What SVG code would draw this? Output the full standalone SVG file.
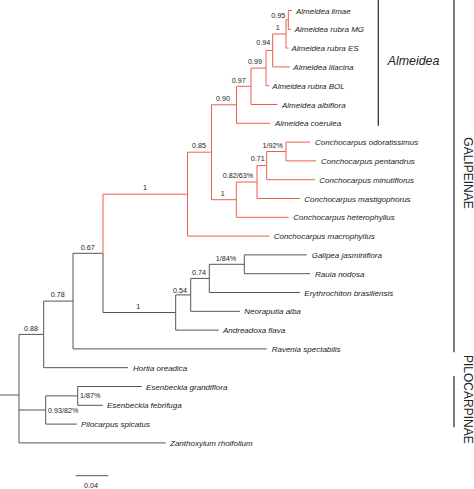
<svg xmlns="http://www.w3.org/2000/svg" width="474" height="489" viewBox="0 0 474 489">
<style>
.bg{fill:#fff}
.red{fill:none;stroke:#ef5d50;stroke-width:1}
.blk{fill:none;stroke:#555;stroke-width:1}
.bar{fill:none;stroke:#333;stroke-width:1.3}
.leaf{font-family:"Liberation Sans",Arial,sans-serif;font-size:8px;font-style:italic;fill:#222}
.sup{font-family:"Liberation Sans",Arial,sans-serif;font-size:7.2px;fill:#222;text-anchor:middle}
.clade{font-family:"Liberation Sans",Arial,sans-serif;font-size:12px;fill:#222}
</style>
<rect class="bg" width="474" height="489"/>
<g id="connectors">
<path class="red" d="M288.3,10.5V29.3M288.3,10.5H292M288.3,29.3H291
M286,19.9V48.1M286,19.9H288.3M286,48.1H288.3
M272.7,34V66.9M272.7,34H286M272.7,66.9H290
M266,50.45V85.7M266,50.45H272.7M266,85.7H269.3
M251,68.1V104.5M251,68.1H266M251,104.5H277.3
M236.5,86.3V123.3M236.5,86.3H251M236.5,123.3H270
M286,142.1V160.9M286,142.1H310M286,160.9H316
M266.7,151.5V179.7M266.7,151.5H286M266.7,179.7H315
M257,165.6V198.5M257,165.6H266.7M257,198.5H300
M236.3,182V217.3M236.3,182H257M236.3,217.3H288.7
M211.5,104.8V199.7M211.5,104.8H236.5M211.5,199.7H236.3
M187.5,152.2V236.1M187.5,152.2H211.5M187.5,236.1H269.3
M103,194.2V253.3M103,194.2H187.5"/>
<path class="blk" d="M103,253.3V312.5M103,312.5H175.7
M175.7,294.9V330.1M175.7,294.9H190.7M175.7,330.1H218.7
M190.7,278.4V311.3M190.7,278.4H209.3M190.7,311.3H240
M209.3,264.3V292.5M209.3,264.3H244.3M209.3,292.5H300
M244.3,254.9V273.7M244.3,254.9H306.7M244.3,273.7H310
M73,253.3V348.9M73,253.3H103M73,348.9H266.7
M43.7,301.1V367.7M43.7,301.1H73M43.7,367.7H128
M77.7,386.5V405.3M77.7,386.5H141.7M77.7,405.3H102.7
M45.7,395.9V424.1M45.7,395.9H77.7M45.7,424.1H76.7
M19,334.4V442.9M19,334.4H43.7M19,410H45.7M19,442.9H165.7M0,395H19"/>
<path class="blk" d="M75.7,475.7H108.3"/>
</g>
<g id="leaves">
<g id="leaf-limae"><text class="leaf" x="296" y="13.5">Almeidea limae</text></g>
<g id="leaf-rubraMG"><text class="leaf" x="294.7" y="32.3">Almeidea rubra MG</text></g>
<g id="leaf-rubraES"><text class="leaf" x="291.5" y="51.1">Almeidea rubra ES</text></g>
<g id="leaf-lilacina"><text class="leaf" x="293.3" y="69.9">Almeidea lilacina</text></g>
<g id="leaf-rubraBOL"><text class="leaf" x="272.3" y="88.7">Almeidea rubra BOL</text></g>
<g id="leaf-albiflora"><text class="leaf" x="282" y="107.5">Almeidea albiflora</text></g>
<g id="leaf-coerulea"><text class="leaf" x="275" y="126.3">Almeidea coerulea</text></g>
<g id="leaf-odoratissimus"><text class="leaf" x="315" y="145.1">Conchocarpus odoratissimus</text></g>
<g id="leaf-pentandrus"><text class="leaf" x="321" y="163.9">Conchocarpus pentandrus</text></g>
<g id="leaf-minutiflorus"><text class="leaf" x="319.3" y="182.7">Conchocarpus minutiflorus</text></g>
<g id="leaf-mastigophorus"><text class="leaf" x="304.3" y="201.5">Conchocarpus mastigophorus</text></g>
<g id="leaf-heterophyllus"><text class="leaf" x="293.3" y="220.3">Conchocarpus heterophyllus</text></g>
<g id="leaf-macrophyllus"><text class="leaf" x="273.7" y="239.1">Conchocarpus macrophyllus</text></g>
<g id="leaf-galipea"><text class="leaf" x="311.7" y="257.9">Galipea jasminiflora</text></g>
<g id="leaf-rauia"><text class="leaf" x="315" y="276.7">Rauia nodosa</text></g>
<g id="leaf-erythrochiton"><text class="leaf" x="304.3" y="295.5">Erythrochiton brasiliensis</text></g>
<g id="leaf-neoraputia"><text class="leaf" x="244.3" y="314.3">Neoraputia alba</text></g>
<g id="leaf-andreadoxa"><text class="leaf" x="223" y="333.1">Andreadoxa flava</text></g>
<g id="leaf-ravenia"><text class="leaf" x="271.7" y="351.9">Ravenia spectabilis</text></g>
<g id="leaf-hortia"><text class="leaf" x="133" y="370.7">Hortia oreadica</text></g>
<g id="leaf-esgrandiflora"><text class="leaf" x="146" y="389.5">Esenbeckia grandiflora</text></g>
<g id="leaf-esfebrifuga"><text class="leaf" x="107" y="408.3">Esenbeckia febrifuga</text></g>
<g id="leaf-pilocarpus"><text class="leaf" x="81" y="427.1">Pilocarpus spicatus</text></g>
<g id="leaf-zanthoxylum"><text class="leaf" x="170" y="445.9">Zanthoxylum rhoifolium</text></g>
</g>
<g id="supports">
<g id="n-a1"><text class="sup" x="278.3" y="17.6">0.95</text></g>
<g id="n-a2"><text class="sup" x="277.7" y="29.9">1</text></g>
<g id="n-a3"><text class="sup" x="263.3" y="45.3">0.94</text></g>
<g id="n-a4"><text class="sup" x="255" y="63.6">0.99</text></g>
<g id="n-a5"><text class="sup" x="238.7" y="82.6">0.97</text></g>
<g id="n-a6"><text class="sup" x="223" y="100.6">0.90</text></g>
<g id="n-85"><text class="sup" x="199" y="148.3">0.85</text></g>
<g id="n-c1"><text class="sup" x="272.7" y="148.3">1/92%</text></g>
<g id="n-c2"><text class="sup" x="257.7" y="160.9">0.71</text></g>
<g id="n-c3"><text class="sup" x="238" y="178.3">0.82/63%</text></g>
<g id="n-c4"><text class="sup" x="222.7" y="195.9">1</text></g>
<g id="n-r1"><text class="sup" x="145" y="190.3">1</text></g>
<g id="n-67"><text class="sup" x="87.7" y="249.6">0.67</text></g>
<g id="n-g1"><text class="sup" x="226" y="260.6">1/84%</text></g>
<g id="n-g2"><text class="sup" x="199" y="274.9">0.74</text></g>
<g id="n-g3"><text class="sup" x="180" y="292.9">0.54</text></g>
<g id="n-g4"><text class="sup" x="138.3" y="308.6">1</text></g>
<g id="n-78"><text class="sup" x="57.7" y="297.3">0.78</text></g>
<g id="n-88"><text class="sup" x="31" y="330.9">0.88</text></g>
<g id="n-e1"><text class="sup" x="90.3" y="398.3">1/87%</text></g>
<g id="n-p1"><text class="sup" x="63.3" y="412.9">0.93/82%</text></g>
</g>
<g id="clade-almeidea">
<path class="bar" d="M378.3,0V125.7"/>
<text class="clade" x="387.7" y="65" style="font-style:italic;font-size:12.4px">Almeidea</text>
</g>
<g id="clade-galipeinae">
<path class="bar" d="M454,0V352.3"/>
<text class="clade" text-anchor="middle" transform="translate(464,173) rotate(90)">GALIPEINAE</text>
</g>
<g id="clade-pilocarpinae">
<path class="bar" d="M454,376V427.3"/>
<text class="clade" text-anchor="middle" transform="translate(464,399.3) rotate(90)">PILOCARPINAE</text>
</g>
<g id="scale">
<text class="sup" x="91" y="487.8">0.04</text>
</g>
</svg>
